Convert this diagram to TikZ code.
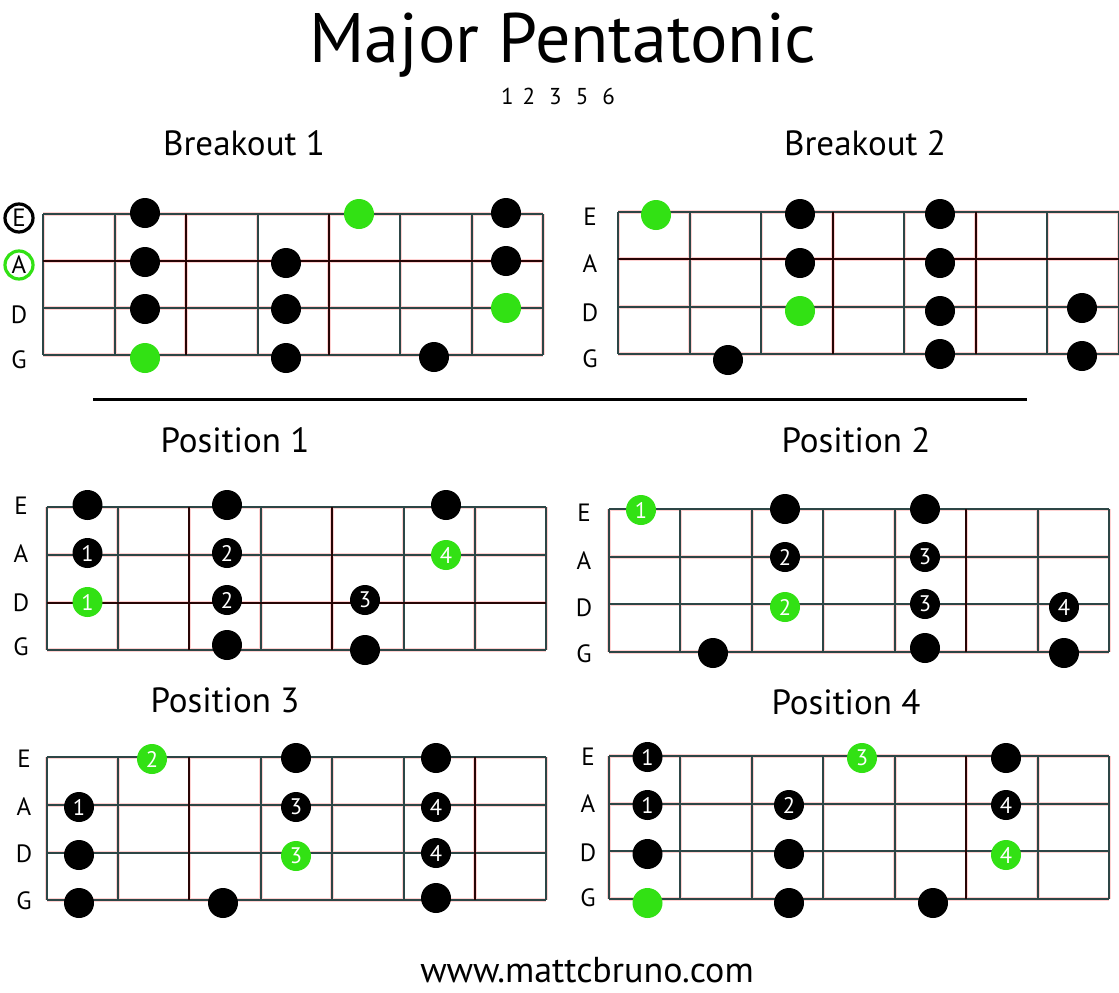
\documentclass[tikz,border=0pt]{standalone}
\usepackage{fontspec}
\setmainfont{PT Sans}
\definecolor{fgreen}{RGB}{50,225,20}
\definecolor{slate}{RGB}{45,70,70}
\definecolor{dred}{RGB}{40,5,5}
\tikzset{
  halo/.style={draw=red!18, line width=3.6pt},
  fret/.style={draw=slate, line width=2pt},
  rfret/.style={draw=dred, line width=2pt},
  bd/.style={circle, fill=black, minimum size=30pt, inner sep=0pt, text=white, font=\fontsize{22.5}{22.5}\selectfont},
  gd/.style={bd, fill=fgreen},
  slab/.style={font=\fontsize{25}{25}\selectfont, inner sep=0pt},
  ttl/.style={anchor=base, inner sep=0pt},
}
\newcommand\panel[4]{%
  \pgfmathsetmacro\pxa{#1}\pgfmathsetmacro\pxb{#1+7*#2}%
  \pgfmathsetmacro\pya{#3}\pgfmathsetmacro\pyb{#3+3*#4}%
  \foreach \i in {0,...,7} {\draw[halo] ({#1+\i*#2},\pya) -- ({#1+\i*#2},\pyb);}
  \foreach \j in {0,...,3} {\draw[halo] (\pxa,{#3+\j*#4}) -- (\pxb,{#3+\j*#4});}
  \foreach \i in {0,...,7} {\draw[fret] ({#1+\i*#2},\pya) -- ({#1+\i*#2},\pyb);}
  \foreach \j in {0,...,3} {\draw[fret] (\pxa,{#3+\j*#4}) -- (\pxb,{#3+\j*#4});}
}
% dark vertical: x0 dx y0 dy i
\newcommand\darkv[5]{\draw[rfret] ({#1+#5*#2},#3) -- ({#1+#5*#2},{#3+3*#4});}
% dark horizontal: x0 dx y0 dy j
\newcommand\darkh[5]{\draw[rfret] (#1,{#3+#5*#4}) -- ({#1+7*#2},{#3+#5*#4});}
\begin{document}
\begin{tikzpicture}[x=1pt,y=-1pt]
\useasboundingbox (0,0) rectangle (1119,993);
\fill[white] (0,0) rectangle (1119,993);

% titles
\node[ttl, font=\fontsize{70}{70}\selectfont] (title) at (563,62) {Major Pentatonic};
\node[ttl, font=\fontsize{23}{23}\selectfont] (degrees) at (558,104) {1\hspace{9pt}2\hspace{14pt}3\hspace{14pt}5\hspace{14pt}6};
\node[ttl, font=\fontsize{35}{35}\selectfont] (tb1) at (244,155) {Breakout 1};
\node[ttl, font=\fontsize{35}{35}\selectfont] (tb2) at (865,155) {Breakout 2};
\node[ttl, font=\fontsize{35}{35}\selectfont] (tp1) at (235,452) {Position 1};
\node[ttl, font=\fontsize{35}{35}\selectfont] (tp2) at (856,452) {Position 2};
\node[ttl, font=\fontsize{35}{35}\selectfont] (tp3) at (225,712) {Position 3};
\node[ttl, font=\fontsize{35}{35}\selectfont] (tp4) at (846,714) {Position 4};
\node[ttl, font=\fontsize{36}{36}\selectfont] (url) at (587,982) {www.mattcbruno.com};

% separator
\coordinate (sepL) at (93,399);
\coordinate (sepR) at (1027,399);
\draw[line width=3pt] (sepL) -- (sepR);

% boards
\panel{43.3}{71.4}{214}{47}
\darkv{43.3}{71.4}{214}{47}{2}\darkv{43.3}{71.4}{214}{47}{4}\darkh{43.3}{71.4}{214}{47}{1}
\panel{618.3}{71.5}{211.7}{47.5}
\darkv{618.3}{71.5}{211.7}{47.5}{3}\darkv{618.3}{71.5}{211.7}{47.5}{5}\darkh{618.3}{71.5}{211.7}{47.5}{1}
\panel{46.5}{71.4}{507.3}{47.6}
\darkv{46.5}{71.4}{507.3}{47.6}{2}\darkv{46.5}{71.4}{507.3}{47.6}{4}\darkh{46.5}{71.4}{507.3}{47.6}{2}
\panel{608.9}{71.5}{509.3}{47.5}
\darkv{608.9}{71.5}{509.3}{47.5}{5}
\panel{46.5}{71.4}{757.3}{47.6}
\darkv{46.5}{71.4}{757.3}{47.6}{2}\darkv{46.5}{71.4}{757.3}{47.6}{6}
\panel{608.9}{71.5}{756}{47.7}
\darkv{608.9}{71.5}{756}{47.7}{5}

% string labels
\node[slab, circle, draw=black, line width=3.2pt, minimum size=28pt] (b1lE) at (19,218) {E};
\node[slab, circle, draw=fgreen, line width=3.2pt, minimum size=28pt] (b1lA) at (19,265) {A};
\node[slab] (b1lD) at (19,315) {D};
\node[slab] (b1lG) at (19,360) {G};
\node[slab] (b2lE) at (590,216.7) {E};
\node[slab] (b2lA) at (590,264) {A};
\node[slab] (b2lD) at (590,312.7) {D};
\node[slab] (b2lG) at (590,358.3) {G};
\node[slab] (p1lE) at (21,506) {E};
\node[slab] (p1lA) at (21,554) {A};
\node[slab] (p1lD) at (21,602.7) {D};
\node[slab] (p1lG) at (21,646.7) {G};
\node[slab] (p2lE) at (584,513) {E};
\node[slab] (p2lA) at (584,561) {A};
\node[slab] (p2lD) at (584,608) {D};
\node[slab] (p2lG) at (584,654) {G};
\node[slab] (p3lE) at (24,759) {E};
\node[slab] (p3lA) at (24,807) {A};
\node[slab] (p3lD) at (24,854) {D};
\node[slab] (p3lG) at (24,901) {G};
\node[slab] (p4lE) at (588,757) {E};
\node[slab] (p4lA) at (588,804) {A};
\node[slab] (p4lD) at (588,853) {D};
\node[slab] (p4lG) at (588,898) {G};

% Breakout 1 dots
\node[bd] (b1e1) at (145,213) {};
\node[gd] (b1e2) at (359,214) {};
\node[bd] (b1e3) at (506,213) {};
\node[bd] (b1a1) at (145,262) {};
\node[bd] (b1a2) at (286,263) {};
\node[bd] (b1a3) at (506,261) {};
\node[bd] (b1d1) at (145,309) {};
\node[bd] (b1d2) at (286,309) {};
\node[gd] (b1d3) at (506,308) {};
\node[gd] (b1g1) at (145,358) {};
\node[bd] (b1g2) at (286,358) {};
\node[bd] (b1g3) at (434,357) {};

% Breakout 2 dots
\node[gd] (b2e1) at (656,215) {};
\node[bd] (b2e2) at (800,214) {};
\node[bd] (b2e3) at (940,214) {};
\node[bd] (b2a1) at (800,263) {};
\node[bd] (b2a2) at (940,263) {};
\node[gd] (b2d1) at (800,311) {};
\node[bd] (b2d2) at (940,311) {};
\node[bd] (b2d3) at (1082,308) {};
\node[bd] (b2g1) at (728,360) {};
\node[bd] (b2g2) at (940,354) {};
\node[bd] (b2g3) at (1082,356) {};

% Position 1 dots
\node[bd] (p1e1) at (87.5,505) {};
\node[bd] (p1e2) at (227,505) {};
\node[bd] (p1e3) at (446,505) {};
\node[bd] (p1a1) at (87.5,553) {1};
\node[bd] (p1a2) at (227,553) {2};
\node[gd] (p1a3) at (446,555) {4};
\node[gd] (p1d1) at (87.5,602) {1};
\node[bd] (p1d2) at (227,600) {2};
\node[bd] (p1d3) at (365,600) {3};
\node[bd] (p1g1) at (227,645) {};
\node[bd] (p1g2) at (365,650) {};

% Position 2 dots
\node[gd] (p2e1) at (641,510) {1};
\node[bd] (p2e2) at (785,509) {};
\node[bd] (p2e3) at (925,509) {};
\node[bd] (p2a1) at (785,557) {2};
\node[bd] (p2a2) at (925,557) {3};
\node[gd] (p2d1) at (785,607) {2};
\node[bd] (p2d2) at (925,604) {3};
\node[bd] (p2d3) at (1064,607) {4};
\node[bd] (p2g1) at (713,653) {};
\node[bd] (p2g2) at (925,648) {};
\node[bd] (p2g3) at (1064,653) {};

% Position 3 dots
\node[gd] (p3e1) at (152,759) {2};
\node[bd] (p3e2) at (296,758) {};
\node[bd] (p3e3) at (436,758) {};
\node[bd] (p3a1) at (79,807) {1};
\node[bd] (p3a2) at (296,807) {3};
\node[bd] (p3a3) at (436,807) {4};
\node[bd] (p3d1) at (79,855) {};
\node[gd] (p3d2) at (296,856) {3};
\node[bd] (p3d3) at (436,853) {4};
\node[bd] (p3g1) at (79,903) {};
\node[bd] (p3g2) at (223,903) {};
\node[bd] (p3g3) at (436,898) {};

% Position 4 dots
\node[bd] (p4e1) at (647.5,757) {1};
\node[gd] (p4e2) at (862,758) {3};
\node[bd] (p4e3) at (1006,758) {};
\node[bd] (p4a1) at (647.5,805) {1};
\node[bd] (p4a2) at (789,805) {2};
\node[bd] (p4a3) at (1006,805) {4};
\node[bd] (p4d1) at (647.5,854) {};
\node[bd] (p4d2) at (789,854) {};
\node[gd] (p4d3) at (1006,855) {4};
\node[gd] (p4g1) at (647.5,903) {};
\node[bd] (p4g2) at (789,903) {};
\node[bd] (p4g3) at (933,903) {};
\end{tikzpicture}
\end{document}
